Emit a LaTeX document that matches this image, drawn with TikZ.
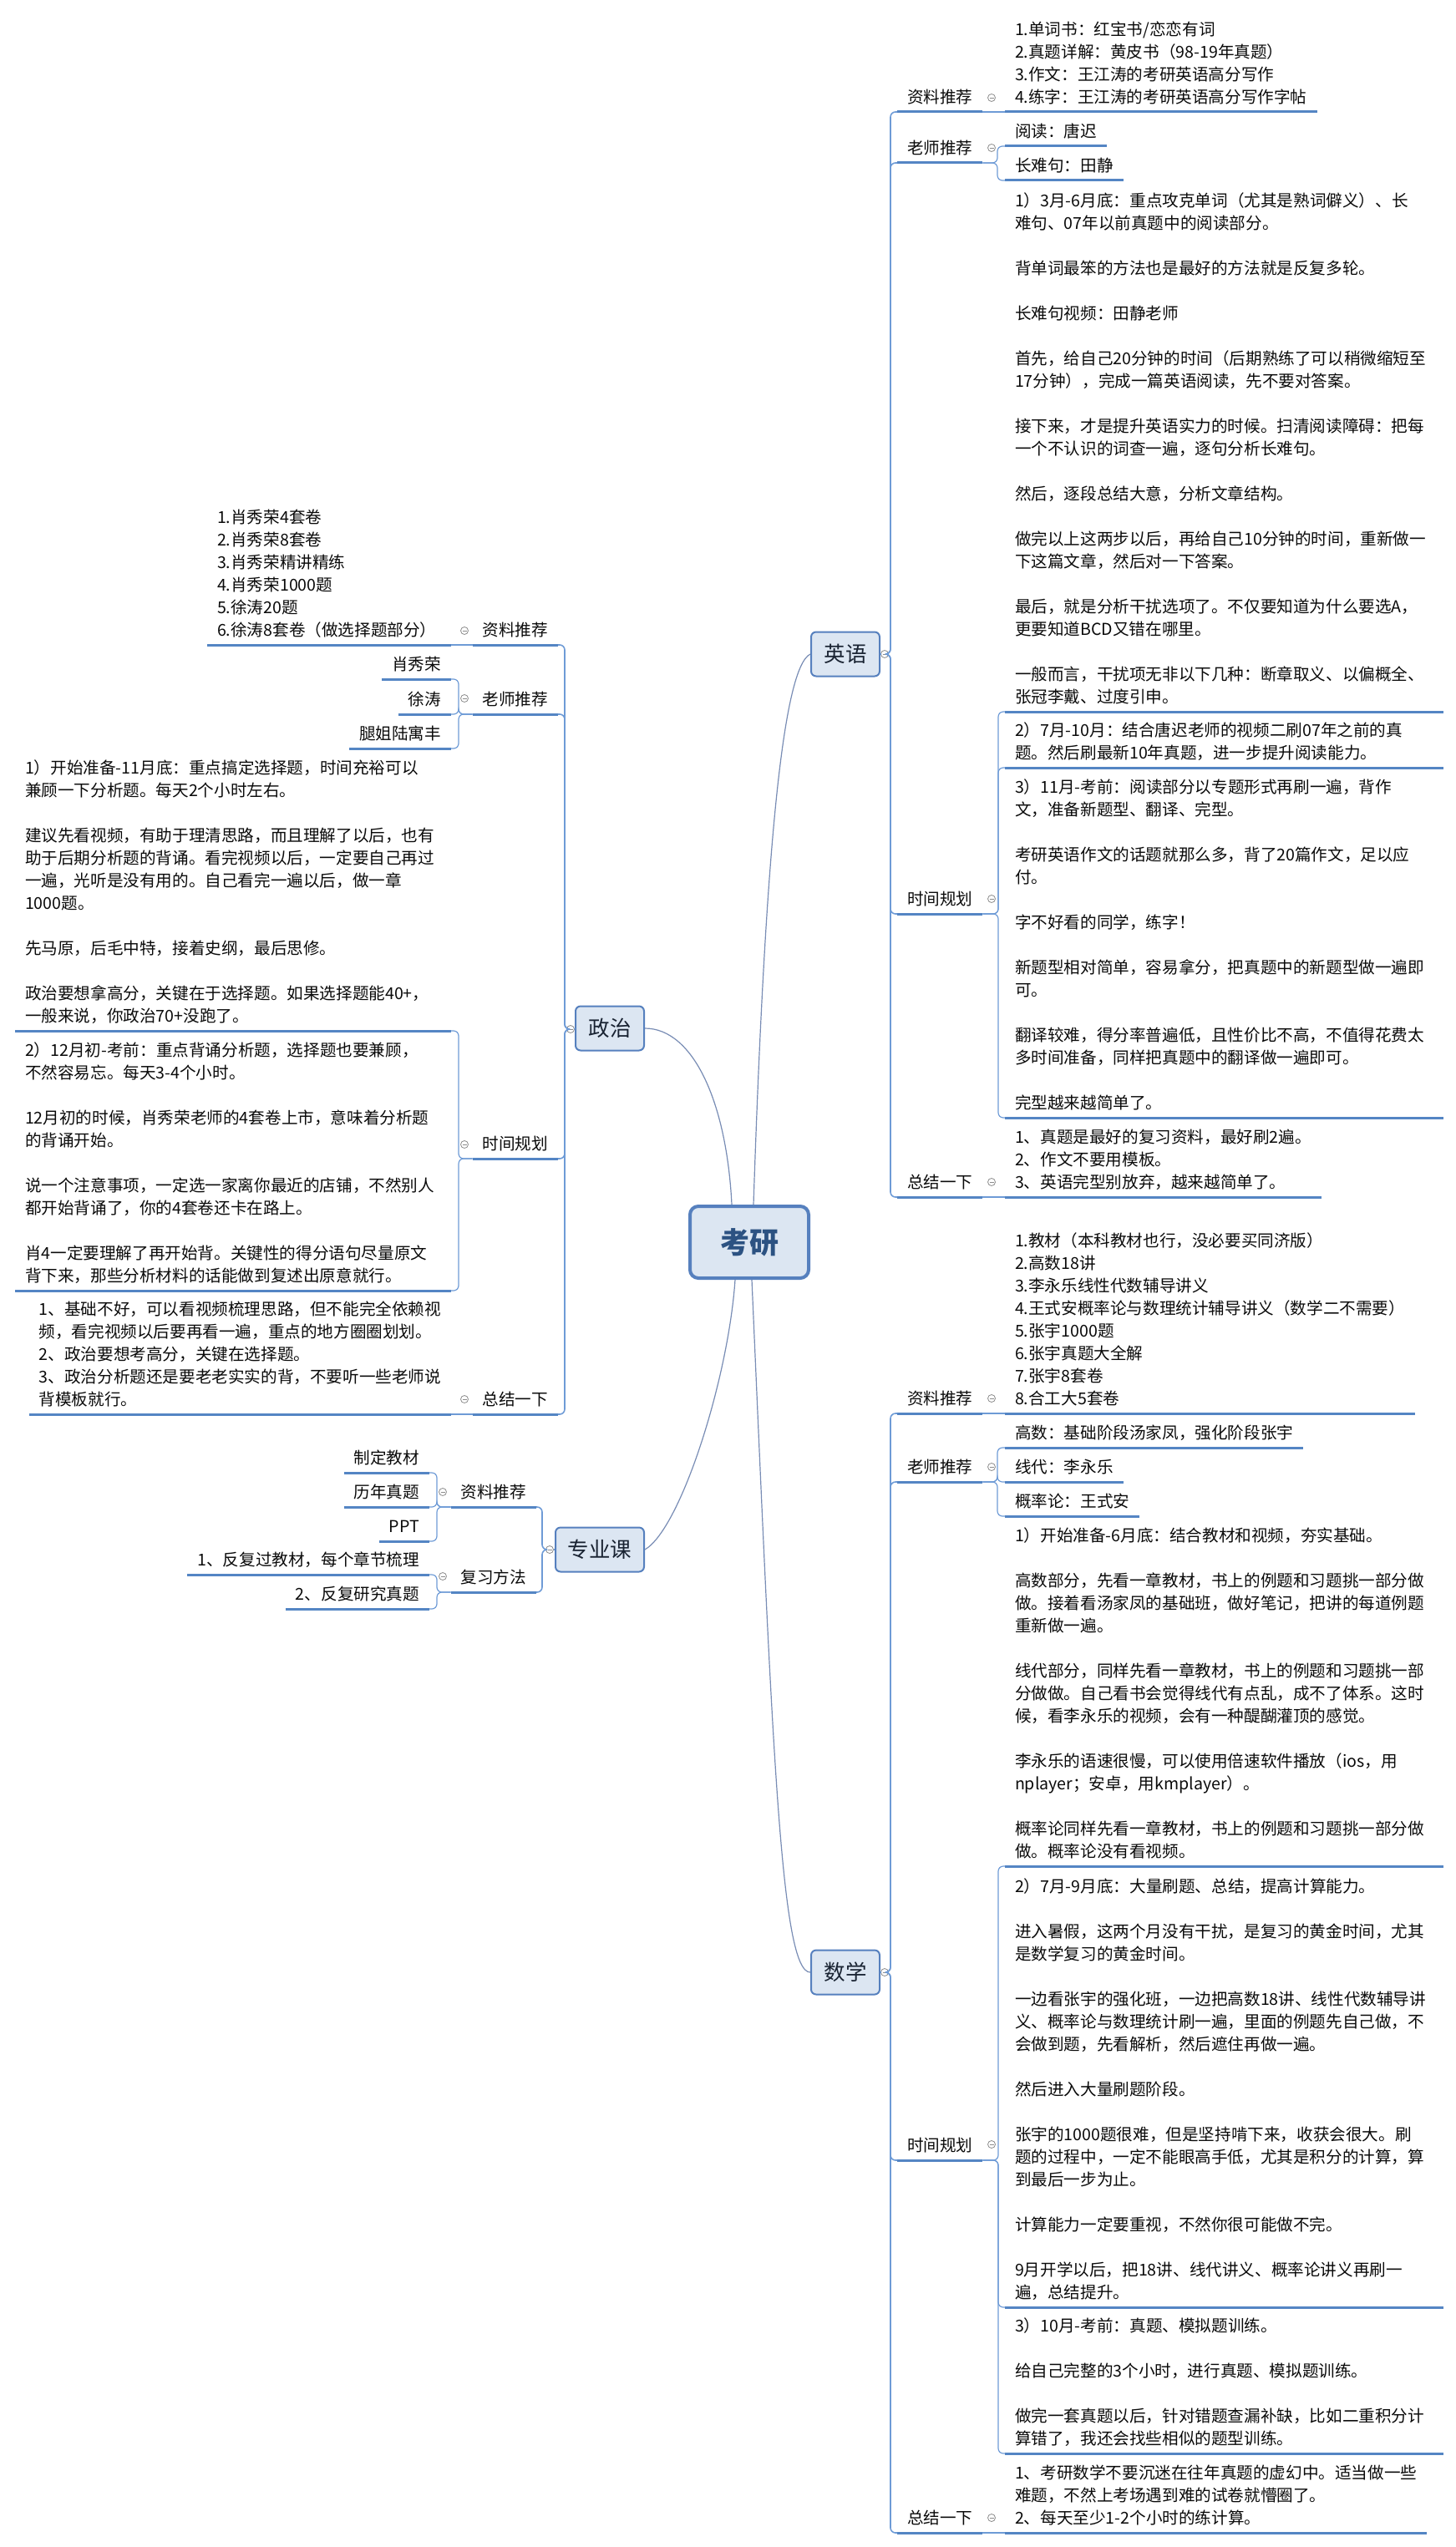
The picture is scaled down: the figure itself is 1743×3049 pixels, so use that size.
\documentclass[tikz,border=0pt]{standalone}
\usepackage{fontspec}
\setmainfont{Noto Sans CJK SC}
\newcommand\lastd{\rule[-1.5pt]{0pt}{1pt}}
\definecolor{ulc}{RGB}{84,133,196}
\definecolor{spc}{RGB}{110,155,214}
\definecolor{mainc}{RGB}{120,140,180}
\definecolor{boxfill}{RGB}{220,230,242}
\definecolor{boxdraw}{RGB}{86,128,190}
\definecolor{cent}{RGB}{44,82,130}
\definecolor{txt}{RGB}{10,10,10}
\definecolor{foldc}{RGB}{140,140,140}
\tikzset{
  ulline/.style={draw=ulc,line width=1.5pt},
  und/.style={append after command={(\tikzlastnode.south west) edge[ulline] (\tikzlastnode.south east)}},
  txtbase/.style={font=\fontsize{9.8pt}{13.5pt}\selectfont, text=txt, inner xsep=6pt, inner ysep=3.8pt, outer sep=0pt, execute at end node=\lastd, align=left, und},
  lab/.style={txtbase},
  item/.style={txtbase},
  rblk/.style={txtbase, text width=250.5pt},
  lblk/.style={txtbase, text width=249pt},
  fold/.style={circle, draw=foldc, fill=white, line width=0.4pt, minimum size=4.5pt, inner sep=0pt,
    path picture={\draw[foldc,line width=0.4pt] ([xshift=1pt]path picture bounding box.west) -- ([xshift=-1pt]path picture bounding box.east);}},
  brnode/.style={rectangle, rounded corners=3pt, draw=boxdraw, fill=boxfill, line width=1pt, minimum width=41pt, minimum height=26.5pt, font=\fontsize{12.75pt}{15pt}\selectfont, text={rgb,255:red,25;green,35;blue,50}},
  cennode/.style={rectangle, rounded corners=5pt, draw=boxdraw, fill=boxfill, line width=2pt, minimum width=71pt, minimum height=43pt, font=\fontsize{17.5pt}{20pt}\selectfont\bfseries, text=cent},
  spine/.style={draw=spc, line width=0.8pt},
  brk/.style={draw=spc, line width=0.6pt},
  mainln/.style={draw=mainc, line width=0.6pt},
}
\begin{document}
\begin{tikzpicture}[x=0.5pt,y=-0.5pt]
\useasboundingbox (0,0) rectangle (1743,3049);

% ---------- centre and branches
\node[cennode] (cen) at (897,1487) {考研};
\node[brnode] (en) at (1012,783) {英语};
\node[brnode] (zz) at (730,1231) {政治};
\node[brnode, minimum width=53pt] (zy) at (718,1855) {专业课};
\node[brnode] (sx) at (1012,2361) {数学};

\draw[mainln] ([xshift=2.5pt]cen.north) .. controls (915,1050) and (935,800) .. (en.west);
\draw[mainln] ([xshift=-10.5pt]cen.north) .. controls (870,1320) and (830,1231) .. (zz.east);
\draw[mainln] ([xshift=-8.5pt]cen.south) .. controls (872,1650) and (815,1830) .. (zy.east);
\draw[mainln] ([xshift=1.5pt]cen.south) .. controls (925,2100) and (935,2361) .. (sx.west);

% ---------- English
\node[fold] (enf) at (1059,783) {};
\node[lab, anchor=south west] (enzl) at (1074,134) {资料推荐};
\node[fold] (enzlf) at (1187,117) {};
\node[item, anchor=south west] (enzlc) at (1203,134) {1.单词书：红宝书/恋恋有词\\2.真题详解：黄皮书（98-19年真题）\\3.作文：王江涛的考研英语高分写作\\4.练字：王江涛的考研英语高分写作字帖};
\node[lab, anchor=south west] (entea) at (1074,195) {老师推荐};
\node[fold] (enteaf) at (1187,177) {};
\node[item, anchor=south west] (entea1) at (1203,175) {阅读：唐迟};
\node[item, anchor=south west] (entea2) at (1203,216) {长难句：田静};
\node[lab, anchor=south west] (entime) at (1074,1094) {时间规划};
\node[fold] (entimef) at (1187,1076) {};
\node[rblk, anchor=south west] (ent1) at (1203,852) {1）3月-6月底：重点攻克单词（尤其是熟词僻义）、长\\难句、07年以前真题中的阅读部分。\\[13.5pt]背单词最笨的方法也是最好的方法就是反复多轮。\\[13.5pt]长难句视频：田静老师\\[13.5pt]首先，给自己20分钟的时间（后期熟练了可以稍微缩短至\\17分钟），完成一篇英语阅读，先不要对答案。\\[13.5pt]接下来，才是提升英语实力的时候。扫清阅读障碍：把每\\一个不认识的词查一遍，逐句分析长难句。\\[13.5pt]然后，逐段总结大意，分析文章结构。\\[13.5pt]做完以上这两步以后，再给自己10分钟的时间，重新做一\\下这篇文章，然后对一下答案。\\[13.5pt]最后，就是分析干扰选项了。不仅要知道为什么要选A，\\更要知道BCD又错在哪里。\\[13.5pt]一般而言，干扰项无非以下几种：断章取义、以偏概全、\\张冠李戴、过度引申。};
\node[rblk, anchor=south west] (ent2) at (1203,919) {2）7月-10月：结合唐迟老师的视频二刷07年之前的真\\题。然后刷最新10年真题，进一步提升阅读能力。};
\node[rblk, anchor=south west] (ent3) at (1203,1338) {3）11月-考前：阅读部分以专题形式再刷一遍，背作\\文，准备新题型、翻译、完型。\\[13.5pt]考研英语作文的话题就那么多，背了20篇作文，足以应\\付。\\[13.5pt]字不好看的同学，练字！\\[13.5pt]新题型相对简单，容易拿分，把真题中的新题型做一遍即\\可。\\[13.5pt]翻译较难，得分率普遍低，且性价比不高，不值得花费太\\多时间准备，同样把真题中的翻译做一遍即可。\\[13.5pt]完型越来越简单了。};
\node[lab, anchor=south west] (ensum) at (1074,1433) {总结一下};
\node[fold] (ensumf) at (1187,1415) {};
\node[item, anchor=south west] (ensumc) at (1203,1433) {1、真题是最好的复习资料，最好刷2遍。\\2、作文不要用模板。\\3、英语完型别放弃，越来越简单了。};

\draw[spine] (en.east) -- (enf.west);
\foreach \t in {enzl,entea,entime,ensum}
  \draw[spine,rounded corners=3pt] (enf.east) -- (1066,783) |- (\t.south west);
\draw[brk] (enzl.south east) -- (enzlc.south west);
\foreach \t in {entea1,entea2}
  \draw[brk,rounded corners=3pt] (entea.south east) -- (1194,195) |- (\t.south west);
\foreach \t in {ent1,ent2,ent3}
  \draw[brk,rounded corners=3pt] (entime.south east) -- (1195,1094) |- (\t.south west);
\draw[brk] (ensum.south east) -- (ensumc.south west);

% ---------- Politics
\node[fold] (zzf) at (683,1232) {};
\node[lab, anchor=south east] (zzzl) at (668,772) {资料推荐};
\node[fold] (zzzlf) at (556,755) {};
\node[item, anchor=south west, text width=134pt] (zzzlc) at (248,772) {1.肖秀荣4套卷\\2.肖秀荣8套卷\\3.肖秀荣精讲精练\\4.肖秀荣1000题\\5.徐涛20题\\6.徐涛8套卷（做选择题部分）};
\node[lab, anchor=south east] (zztea) at (668,855) {老师推荐};
\node[fold] (zzteaf) at (556,836) {};
\node[item, anchor=south east] (zztea1) at (540,813) {肖秀荣};
\node[item, anchor=south east] (zztea2) at (540,855) {徐涛};
\node[item, anchor=south east] (zztea3) at (540,896) {腿姐陆寓丰};
\node[lab, anchor=south east] (zztime) at (668,1387) {时间规划};
\node[fold] (zztimef) at (556,1370) {};
\node[lblk, anchor=south west] (zzt1) at (18,1234) {1）开始准备-11月底：重点搞定选择题，时间充裕可以\\兼顾一下分析题。每天2个小时左右。\\[13.5pt]建议先看视频，有助于理清思路，而且理解了以后，也有\\助于后期分析题的背诵。看完视频以后，一定要自己再过\\一遍，光听是没有用的。自己看完一遍以后，做一章\\1000题。\\[13.5pt]先马原，后毛中特，接着史纲，最后思修。\\[13.5pt]政治要想拿高分，关键在于选择题。如果选择题能40+，\\一般来说，你政治70+没跑了。};
\node[lblk, anchor=south west] (zzt2) at (18,1545) {2）12月初-考前：重点背诵分析题，选择题也要兼顾，\\不然容易忘。每天3-4个小时。\\[13.5pt]12月初的时候，肖秀荣老师的4套卷上市，意味着分析题\\的背诵开始。\\[13.5pt]说一个注意事项，一定选一家离你最近的店铺，不然别人\\都开始背诵了，你的4套卷还卡在路上。\\[13.5pt]肖4一定要理解了再开始背。关键性的得分语句尽量原文\\背下来，那些分析材料的话能做到复述出原意就行。};
\node[lab, anchor=south east] (zzsum) at (668,1693) {总结一下};
\node[fold] (zzsumf) at (556,1675) {};
\node[item, anchor=south east] (zzsumc) at (540,1693) {1、基础不好，可以看视频梳理思路，但不能完全依赖视\\频，看完视频以后要再看一遍，重点的地方圈圈划划。\\2、政治要想考高分，关键在选择题。\\3、政治分析题还是要老老实实的背，不要听一些老师说\\背模板就行。};

\draw[spine] (zz.west) -- (zzf.east);
\foreach \t in {zzzl,zztea,zztime,zzsum}
  \draw[spine,rounded corners=3pt] (zzf.west) -- (676,1232) |- (\t.south east);
\draw[brk] (zzzl.south west) -- (zzzlc.south east);
\foreach \t in {zztea1,zztea2,zztea3}
  \draw[brk,rounded corners=3pt] (zztea.south west) -- (549,855) |- (\t.south east);
\foreach \t in {zzt1,zzt2}
  \draw[brk,rounded corners=3pt] (zztime.south west) -- (549,1387) |- (\t.south east);
\draw[brk] (zzsum.south west) -- (zzsumc.south east);

% ---------- Professional course
\node[fold] (zyf) at (658,1855) {};
\node[lab, anchor=south east] (zyzl) at (642,1804) {资料推荐};
\node[fold] (zyzlf) at (530,1786) {};
\node[item, anchor=south east] (zyzl1) at (514,1763) {制定教材};
\node[item, anchor=south east] (zyzl2) at (514,1804) {历年真题};
\node[item, anchor=south east] (zyzl3) at (514,1845) {PPT};
\node[lab, anchor=south east] (zyff) at (642,1906) {复习方法};
\node[fold] (zyfff) at (530,1887) {};
\node[item, anchor=south east] (zyff1) at (514,1885) {1、反复过教材，每个章节梳理};
\node[item, anchor=south east] (zyff2) at (514,1926) {2、反复研究真题};

\draw[spine] (zy.west) -- (zyf.east);
\foreach \t in {zyzl,zyff}
  \draw[spine,rounded corners=3pt] (zyf.west) -- (649,1855) |- (\t.south east);
\foreach \t in {zyzl1,zyzl2,zyzl3}
  \draw[brk,rounded corners=3pt] (zyzl.south west) -- (523,1804) |- (\t.south east);
\foreach \t in {zyff1,zyff2}
  \draw[brk,rounded corners=3pt] (zyff.south west) -- (523,1906) |- (\t.south east);

% ---------- Maths
\node[fold] (sxf) at (1059,2361) {};
\node[lab, anchor=south west] (sxzl) at (1074,1692) {资料推荐};
\node[fold] (sxzlf) at (1187,1674) {};
\node[item, anchor=south west] (sxzlc) at (1203,1692) {1.教材（本科教材也行，没必要买同济版）\\2.高数18讲\\3.李永乐线性代数辅导讲义\\4.王式安概率论与数理统计辅导讲义（数学二不需要）\\5.张宇1000题\\6.张宇真题大全解\\7.张宇8套卷\\8.合工大5套卷};
\node[lab, anchor=south west] (sxtea) at (1074,1774) {老师推荐};
\node[fold] (sxteaf) at (1187,1756) {};
\node[item, anchor=south west] (sxtea1) at (1203,1733) {高数：基础阶段汤家凤，强化阶段张宇};
\node[item, anchor=south west] (sxtea2) at (1203,1774) {线代：李永乐};
\node[item, anchor=south west] (sxtea3) at (1203,1815) {概率论：王式安};
\node[lab, anchor=south west] (sxtime) at (1074,2586) {时间规划};
\node[fold] (sxtimef) at (1187,2567) {};
\node[rblk, anchor=south west] (sxt1) at (1203,2234) {1）开始准备-6月底：结合教材和视频，夯实基础。\\[13.5pt]高数部分，先看一章教材，书上的例题和习题挑一部分做\\做。接着看汤家凤的基础班，做好笔记，把讲的每道例题\\重新做一遍。\\[13.5pt]线代部分，同样先看一章教材，书上的例题和习题挑一部\\分做做。自己看书会觉得线代有点乱，成不了体系。这时\\候，看李永乐的视频，会有一种醍醐灌顶的感觉。\\[13.5pt]李永乐的语速很慢，可以使用倍速软件播放（ios，用\\nplayer；安卓，用kmplayer）。\\[13.5pt]概率论同样先看一章教材，书上的例题和习题挑一部分做\\做。概率论没有看视频。};
\node[rblk, anchor=south west] (sxt2) at (1203,2762) {2）7月-9月底：大量刷题、总结，提高计算能力。\\[13.5pt]进入暑假，这两个月没有干扰，是复习的黄金时间，尤其\\是数学复习的黄金时间。\\[13.5pt]一边看张宇的强化班，一边把高数18讲、线性代数辅导讲\\义、概率论与数理统计刷一遍，里面的例题先自己做，不\\会做到题，先看解析，然后遮住再做一遍。\\[13.5pt]然后进入大量刷题阶段。\\[13.5pt]张宇的1000题很难，但是坚持啃下来，收获会很大。刷\\题的过程中，一定不能眼高手低，尤其是积分的计算，算\\到最后一步为止。\\[13.5pt]计算能力一定要重视，不然你很可能做不完。\\[13.5pt]9月开学以后，把18讲、线代讲义、概率论讲义再刷一\\遍，总结提升。};
\node[rblk, anchor=south west] (sxt3) at (1203,2937) {3）10月-考前：真题、模拟题训练。\\[13.5pt]给自己完整的3个小时，进行真题、模拟题训练。\\[13.5pt]做完一套真题以后，针对错题查漏补缺，比如二重积分计\\算错了，我还会找些相似的题型训练。};
\node[lab, anchor=south west] (sxsum) at (1074,3032) {总结一下};
\node[fold] (sxsumf) at (1187,3014) {};
\node[item, anchor=south west] (sxsumc) at (1203,3032) {1、考研数学不要沉迷在往年真题的虚幻中。适当做一些\\难题，不然上考场遇到难的试卷就懵圈了。\\2、每天至少1-2个小时的练计算。};

\draw[spine] (sx.east) -- (sxf.west);
\foreach \t in {sxzl,sxtea,sxtime,sxsum}
  \draw[spine,rounded corners=3pt] (sxf.east) -- (1066,2361) |- (\t.south west);
\draw[brk] (sxzl.south east) -- (sxzlc.south west);
\foreach \t in {sxtea1,sxtea2,sxtea3}
  \draw[brk,rounded corners=3pt] (sxtea.south east) -- (1194,1774) |- (\t.south west);
\foreach \t in {sxt1,sxt2,sxt3}
  \draw[brk,rounded corners=3pt] (sxtime.south east) -- (1195,2586) |- (\t.south west);
\draw[brk] (sxsum.south east) -- (sxsumc.south west);
\end{tikzpicture}
\end{document}
